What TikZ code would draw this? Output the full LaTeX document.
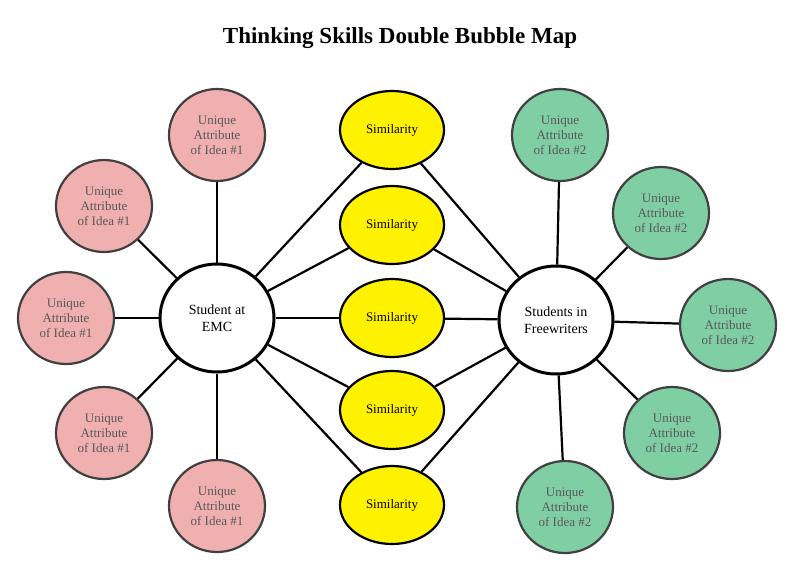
\documentclass[tikz,border=0pt]{standalone}
\usepackage{fontspec}
\setmainfont{Liberation Serif}
\usetikzlibrary{shapes.geometric}
\definecolor{pinkfill}{HTML}{F0B0B0}
\definecolor{greenfill}{HTML}{80CFA4}
\tikzset{
  hub/.style={ellipse,draw,line width=3pt,fill=white,minimum width=114pt,minimum height=108pt,align=center,font=\fontsize{14}{17}\selectfont},
  simbox/.style={ellipse,draw,line width=2.2pt,fill=yellow,minimum width=104pt,minimum height=78pt,font=\fontsize{13}{15}\selectfont},
  leftattr/.style={ellipse,draw=black!75,line width=2.2pt,fill=pinkfill,minimum width=96pt,minimum height=92pt,align=center,text=black!65,font=\fontsize{13}{15}\selectfont},
  rightattr/.style={leftattr,fill=greenfill},
  link/.style={line width=2.2pt}
}
\begin{document}
\begin{tikzpicture}[x=1pt,y=-1pt]
  \useasboundingbox (0,0) rectangle (800,574);
  % Title
  \node (title) at (400,38) {\fontsize{23}{26}\selectfont\bfseries Thinking Skills Double Bubble Map};
  % Hubs
  \node[hub] (emc) at (217,318) {Student at\\EMC};
  \node[hub] (free) at (556,320) {Students in\\Freewriters};
  % Similarities
  \foreach \i/\y in {1/130,2/225,3/318,4/410,5/505}{
    \node[simbox] (sim\i) at (392,\y) {Similarity};
  }
  % Unique attributes
  \foreach \i/\x/\y in {1/217/135,2/104/206,3/66/318,4/104/433,5/217/506}{
    \node[leftattr] (la\i) at (\x,\y) {Unique\\Attribute\\of Idea \#1};
  }
  \foreach \i/\x/\y in {1/560/135,2/661/213,3/728/325,4/672/433,5/565/507}{
    \node[rightattr] (ra\i) at (\x,\y) {Unique\\Attribute\\of Idea \#2};
  }
  % Connectors
  \foreach \i in {1,...,5}{
    \draw[link] (emc) -- (sim\i);
    \draw[link] (free) -- (sim\i);
    \draw[link] (emc) -- (la\i);
    \draw[link] (free) -- (ra\i);
  }
\end{tikzpicture}
\end{document}
